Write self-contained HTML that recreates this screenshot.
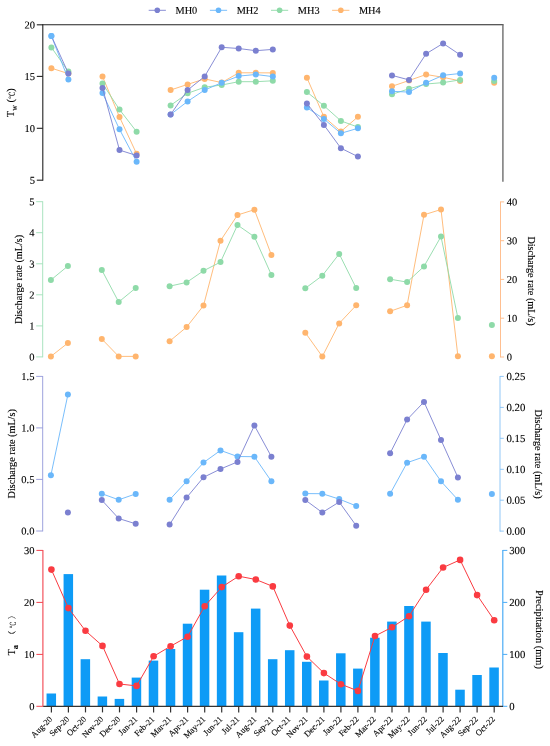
<!DOCTYPE html>
<html><head><meta charset="utf-8"><title>chart</title>
<style>html,body{margin:0;padding:0;background:#fff}body{width:550px;height:746px;overflow:hidden}svg text{stroke:#000;stroke-width:0.12px}</style></head>
<body>
<svg width="550" height="746" viewBox="0 0 550 746" style="display:block;font-family:'Liberation Serif', 'Noto Serif CJK SC', serif" stroke-linejoin="round">
<rect width="550" height="746" fill="#fff"/>
<line x1="148.7" y1="10.3" x2="165.9" y2="10.3" stroke="#7b80d0" stroke-width="0.9"/>
<circle cx="157.3" cy="10.3" r="2.8" fill="#7b80d0"/>
<text transform="translate(175.5,13.8) rotate(0.05)" font-size="10.3" fill="#000">MH0</text>
<line x1="209.9" y1="10.3" x2="227.1" y2="10.3" stroke="#6ab7fa" stroke-width="0.9"/>
<circle cx="218.5" cy="10.3" r="2.8" fill="#6ab7fa"/>
<text transform="translate(236.7,13.8) rotate(0.05)" font-size="10.3" fill="#000">MH2</text>
<line x1="271.0" y1="10.3" x2="288.2" y2="10.3" stroke="#8edaa8" stroke-width="0.9"/>
<circle cx="279.6" cy="10.3" r="2.8" fill="#8edaa8"/>
<text transform="translate(297.8,13.8) rotate(0.05)" font-size="10.3" fill="#000">MH3</text>
<line x1="332.1" y1="10.3" x2="349.4" y2="10.3" stroke="#ffb56e" stroke-width="0.9"/>
<circle cx="340.8" cy="10.3" r="2.8" fill="#ffb56e"/>
<text transform="translate(358.9,13.8) rotate(0.05)" font-size="10.3" fill="#000">MH4</text>
<line x1="42.8" y1="24.3" x2="42.8" y2="180.7" stroke="#222" stroke-width="1.1"/>
<line x1="42.3" y1="24.8" x2="503.6" y2="24.8" stroke="#222" stroke-width="1.1"/>
<line x1="502.9" y1="24.8" x2="502.9" y2="181.8" stroke="#777" stroke-width="1.5"/>
<line x1="36.8" y1="24.8" x2="42.8" y2="24.8" stroke="#222" stroke-width="1.1"/>
<text transform="translate(35.0,28.4) rotate(0.05)" text-anchor="end" font-size="10.5" fill="#000">20</text>
<line x1="36.8" y1="76.4" x2="42.8" y2="76.4" stroke="#222" stroke-width="1.1"/>
<text transform="translate(35.0,80.0) rotate(0.05)" text-anchor="end" font-size="10.5" fill="#000">15</text>
<line x1="36.8" y1="128.3" x2="42.8" y2="128.3" stroke="#222" stroke-width="1.1"/>
<text transform="translate(35.0,131.9) rotate(0.05)" text-anchor="end" font-size="10.5" fill="#000">10</text>
<line x1="36.8" y1="180.2" x2="42.8" y2="180.2" stroke="#222" stroke-width="1.1"/>
<text transform="translate(35.0,183.8) rotate(0.05)" text-anchor="end" font-size="10.5" fill="#000">5</text>
<text transform="translate(14,117.2) rotate(-90)" font-size="10.5" fill="#000">T<tspan font-size="7.8" dy="2.8">w</tspan><tspan dy="-2.8" dx="0"> (</tspan><tspan font-size="7.2">℃</tspan>)</text>
<polyline fill="none" stroke="#ffb56e" stroke-width="0.9" points="51.4,68.2 68.4,73.6"/><polyline fill="none" stroke="#ffb56e" stroke-width="0.9" points="102.5,76.5 119.5,117.0 136.6,153.8"/><polyline fill="none" stroke="#ffb56e" stroke-width="0.9" points="170.6,90.0 187.6,84.4 204.7,78.9 221.7,82.6 238.7,72.8 255.8,72.8 272.8,72.9"/><polyline fill="none" stroke="#ffb56e" stroke-width="0.9" points="306.9,77.7 323.9,116.8 340.9,131.5 357.9,116.8"/><polyline fill="none" stroke="#ffb56e" stroke-width="0.9" points="392.0,86.3 409.0,80.5 426.1,74.5 443.1,77.3 460.1,80.9"/><circle cx="51.4" cy="68.2" r="3.0" fill="#ffb56e"/><circle cx="68.4" cy="73.6" r="3.0" fill="#ffb56e"/><circle cx="102.5" cy="76.5" r="3.0" fill="#ffb56e"/><circle cx="119.5" cy="117.0" r="3.0" fill="#ffb56e"/><circle cx="136.6" cy="153.8" r="3.0" fill="#ffb56e"/><circle cx="170.6" cy="90.0" r="3.0" fill="#ffb56e"/><circle cx="187.6" cy="84.4" r="3.0" fill="#ffb56e"/><circle cx="204.7" cy="78.9" r="3.0" fill="#ffb56e"/><circle cx="221.7" cy="82.6" r="3.0" fill="#ffb56e"/><circle cx="238.7" cy="72.8" r="3.0" fill="#ffb56e"/><circle cx="255.8" cy="72.8" r="3.0" fill="#ffb56e"/><circle cx="272.8" cy="72.9" r="3.0" fill="#ffb56e"/><circle cx="306.9" cy="77.7" r="3.0" fill="#ffb56e"/><circle cx="323.9" cy="116.8" r="3.0" fill="#ffb56e"/><circle cx="340.9" cy="131.5" r="3.0" fill="#ffb56e"/><circle cx="357.9" cy="116.8" r="3.0" fill="#ffb56e"/><circle cx="392.0" cy="86.3" r="3.0" fill="#ffb56e"/><circle cx="409.0" cy="80.5" r="3.0" fill="#ffb56e"/><circle cx="426.1" cy="74.5" r="3.0" fill="#ffb56e"/><circle cx="443.1" cy="77.3" r="3.0" fill="#ffb56e"/><circle cx="460.1" cy="80.9" r="3.0" fill="#ffb56e"/><circle cx="494.2" cy="82.8" r="3.0" fill="#ffb56e"/>
<polyline fill="none" stroke="#8edaa8" stroke-width="0.9" points="51.4,47.4 68.4,71.6"/><polyline fill="none" stroke="#8edaa8" stroke-width="0.9" points="102.5,83.5 119.5,109.6 136.6,131.7"/><polyline fill="none" stroke="#8edaa8" stroke-width="0.9" points="170.6,105.4 187.6,93.3 204.7,87.2 221.7,85.0 238.7,81.7 255.8,81.7 272.8,80.8"/><polyline fill="none" stroke="#8edaa8" stroke-width="0.9" points="306.9,92.0 323.9,105.7 340.9,120.9 357.9,127.1"/><polyline fill="none" stroke="#8edaa8" stroke-width="0.9" points="392.0,94.3 409.0,88.8 426.1,84.0 443.1,82.6 460.1,79.9"/><circle cx="51.4" cy="47.4" r="3.0" fill="#8edaa8"/><circle cx="68.4" cy="71.6" r="3.0" fill="#8edaa8"/><circle cx="102.5" cy="83.5" r="3.0" fill="#8edaa8"/><circle cx="119.5" cy="109.6" r="3.0" fill="#8edaa8"/><circle cx="136.6" cy="131.7" r="3.0" fill="#8edaa8"/><circle cx="170.6" cy="105.4" r="3.0" fill="#8edaa8"/><circle cx="187.6" cy="93.3" r="3.0" fill="#8edaa8"/><circle cx="204.7" cy="87.2" r="3.0" fill="#8edaa8"/><circle cx="221.7" cy="85.0" r="3.0" fill="#8edaa8"/><circle cx="238.7" cy="81.7" r="3.0" fill="#8edaa8"/><circle cx="255.8" cy="81.7" r="3.0" fill="#8edaa8"/><circle cx="272.8" cy="80.8" r="3.0" fill="#8edaa8"/><circle cx="306.9" cy="92.0" r="3.0" fill="#8edaa8"/><circle cx="323.9" cy="105.7" r="3.0" fill="#8edaa8"/><circle cx="340.9" cy="120.9" r="3.0" fill="#8edaa8"/><circle cx="357.9" cy="127.1" r="3.0" fill="#8edaa8"/><circle cx="392.0" cy="94.3" r="3.0" fill="#8edaa8"/><circle cx="409.0" cy="88.8" r="3.0" fill="#8edaa8"/><circle cx="426.1" cy="84.0" r="3.0" fill="#8edaa8"/><circle cx="443.1" cy="82.6" r="3.0" fill="#8edaa8"/><circle cx="460.1" cy="79.9" r="3.0" fill="#8edaa8"/><circle cx="494.2" cy="80.9" r="3.0" fill="#8edaa8"/>
<polyline fill="none" stroke="#6ab7fa" stroke-width="0.9" points="51.4,36.0 68.4,79.6"/><polyline fill="none" stroke="#6ab7fa" stroke-width="0.9" points="102.5,93.1 119.5,129.3 136.6,161.7"/><polyline fill="none" stroke="#6ab7fa" stroke-width="0.9" points="170.6,114.5 187.6,101.4 204.7,90.0 221.7,82.7 238.7,76.1 255.8,74.5 272.8,76.6"/><polyline fill="none" stroke="#6ab7fa" stroke-width="0.9" points="306.9,107.6 323.9,119.0 340.9,133.3 357.9,128.3"/><polyline fill="none" stroke="#6ab7fa" stroke-width="0.9" points="392.0,91.3 409.0,92.1 426.1,82.8 443.1,75.3 460.1,73.5"/><circle cx="51.4" cy="36.0" r="3.0" fill="#6ab7fa"/><circle cx="68.4" cy="79.6" r="3.0" fill="#6ab7fa"/><circle cx="102.5" cy="93.1" r="3.0" fill="#6ab7fa"/><circle cx="119.5" cy="129.3" r="3.0" fill="#6ab7fa"/><circle cx="136.6" cy="161.7" r="3.0" fill="#6ab7fa"/><circle cx="170.6" cy="114.5" r="3.0" fill="#6ab7fa"/><circle cx="187.6" cy="101.4" r="3.0" fill="#6ab7fa"/><circle cx="204.7" cy="90.0" r="3.0" fill="#6ab7fa"/><circle cx="221.7" cy="82.7" r="3.0" fill="#6ab7fa"/><circle cx="238.7" cy="76.1" r="3.0" fill="#6ab7fa"/><circle cx="255.8" cy="74.5" r="3.0" fill="#6ab7fa"/><circle cx="272.8" cy="76.6" r="3.0" fill="#6ab7fa"/><circle cx="306.9" cy="107.6" r="3.0" fill="#6ab7fa"/><circle cx="323.9" cy="119.0" r="3.0" fill="#6ab7fa"/><circle cx="340.9" cy="133.3" r="3.0" fill="#6ab7fa"/><circle cx="357.9" cy="128.3" r="3.0" fill="#6ab7fa"/><circle cx="392.0" cy="91.3" r="3.0" fill="#6ab7fa"/><circle cx="409.0" cy="92.1" r="3.0" fill="#6ab7fa"/><circle cx="426.1" cy="82.8" r="3.0" fill="#6ab7fa"/><circle cx="443.1" cy="75.3" r="3.0" fill="#6ab7fa"/><circle cx="460.1" cy="73.5" r="3.0" fill="#6ab7fa"/><circle cx="494.2" cy="77.7" r="3.0" fill="#6ab7fa"/>
<line x1="51.4" y1="36" x2="68.4" y2="73.4" stroke="#7b80d0" stroke-width="0.9"/>
<circle cx="51.4" cy="36" r="3" fill="#6ab7fa"/>
<polyline fill="none" stroke="#7b80d0" stroke-width="0.9" points="102.5,87.9 119.5,150.1 136.6,155.5"/><polyline fill="none" stroke="#7b80d0" stroke-width="0.9" points="170.6,114.5 187.6,90.1 204.7,76.4 221.7,47.3 238.7,48.5 255.8,50.7 272.8,49.4"/><polyline fill="none" stroke="#7b80d0" stroke-width="0.9" points="306.9,103.5 323.9,124.9 340.9,148.2 357.9,156.6"/><polyline fill="none" stroke="#7b80d0" stroke-width="0.9" points="392.0,75.4 409.0,79.9 426.1,53.8 443.1,43.4 460.1,54.8"/><circle cx="68.4" cy="73.4" r="3.0" fill="#7b80d0"/><circle cx="102.5" cy="87.9" r="3.0" fill="#7b80d0"/><circle cx="119.5" cy="150.1" r="3.0" fill="#7b80d0"/><circle cx="136.6" cy="155.5" r="3.0" fill="#7b80d0"/><circle cx="170.6" cy="114.5" r="3.0" fill="#7b80d0"/><circle cx="187.6" cy="90.1" r="3.0" fill="#7b80d0"/><circle cx="204.7" cy="76.4" r="3.0" fill="#7b80d0"/><circle cx="221.7" cy="47.3" r="3.0" fill="#7b80d0"/><circle cx="238.7" cy="48.5" r="3.0" fill="#7b80d0"/><circle cx="255.8" cy="50.7" r="3.0" fill="#7b80d0"/><circle cx="272.8" cy="49.4" r="3.0" fill="#7b80d0"/><circle cx="306.9" cy="103.5" r="3.0" fill="#7b80d0"/><circle cx="323.9" cy="124.9" r="3.0" fill="#7b80d0"/><circle cx="340.9" cy="148.2" r="3.0" fill="#7b80d0"/><circle cx="357.9" cy="156.6" r="3.0" fill="#7b80d0"/><circle cx="392.0" cy="75.4" r="3.0" fill="#7b80d0"/><circle cx="409.0" cy="79.9" r="3.0" fill="#7b80d0"/><circle cx="426.1" cy="53.8" r="3.0" fill="#7b80d0"/><circle cx="443.1" cy="43.4" r="3.0" fill="#7b80d0"/><circle cx="460.1" cy="54.8" r="3.0" fill="#7b80d0"/>
<line x1="42.7" y1="201.3" x2="42.7" y2="357.3" stroke="#9fe0b8" stroke-width="0.9"/>
<line x1="36.2" y1="201.7" x2="42.7" y2="201.7" stroke="#9fe0b8" stroke-width="0.9"/>
<text transform="translate(34.4,205.3) rotate(0.05)" text-anchor="end" font-size="10.5" fill="#000">5</text>
<line x1="36.2" y1="232.7" x2="42.7" y2="232.7" stroke="#9fe0b8" stroke-width="0.9"/>
<text transform="translate(34.4,236.3) rotate(0.05)" text-anchor="end" font-size="10.5" fill="#000">4</text>
<line x1="36.2" y1="263.8" x2="42.7" y2="263.8" stroke="#9fe0b8" stroke-width="0.9"/>
<text transform="translate(34.4,267.4) rotate(0.05)" text-anchor="end" font-size="10.5" fill="#000">3</text>
<line x1="36.2" y1="294.8" x2="42.7" y2="294.8" stroke="#9fe0b8" stroke-width="0.9"/>
<text transform="translate(34.4,298.4) rotate(0.05)" text-anchor="end" font-size="10.5" fill="#000">2</text>
<line x1="36.2" y1="325.9" x2="42.7" y2="325.9" stroke="#9fe0b8" stroke-width="0.9"/>
<text transform="translate(34.4,329.5) rotate(0.05)" text-anchor="end" font-size="10.5" fill="#000">1</text>
<line x1="36.2" y1="356.9" x2="42.7" y2="356.9" stroke="#9fe0b8" stroke-width="0.9"/>
<text transform="translate(34.4,360.5) rotate(0.05)" text-anchor="end" font-size="10.5" fill="#000">0</text>
<line x1="500.5" y1="201.5" x2="500.5" y2="357.4" stroke="#ffb883" stroke-width="0.9"/>
<line x1="500.5" y1="201.9" x2="504.1" y2="201.9" stroke="#ffb883" stroke-width="0.9"/>
<text transform="translate(506.7,205.5) rotate(0.05)" text-anchor="start" font-size="10.5" fill="#000">40</text>
<line x1="500.5" y1="240.7" x2="504.1" y2="240.7" stroke="#ffb883" stroke-width="0.9"/>
<text transform="translate(506.7,244.3) rotate(0.05)" text-anchor="start" font-size="10.5" fill="#000">30</text>
<line x1="500.5" y1="279.4" x2="504.1" y2="279.4" stroke="#ffb883" stroke-width="0.9"/>
<text transform="translate(506.7,283.0) rotate(0.05)" text-anchor="start" font-size="10.5" fill="#000">20</text>
<line x1="500.5" y1="318.2" x2="504.1" y2="318.2" stroke="#ffb883" stroke-width="0.9"/>
<text transform="translate(506.7,321.8) rotate(0.05)" text-anchor="start" font-size="10.5" fill="#000">10</text>
<line x1="500.5" y1="357.0" x2="504.1" y2="357.0" stroke="#ffb883" stroke-width="0.9"/>
<text transform="translate(506.7,360.6) rotate(0.05)" text-anchor="start" font-size="10.5" fill="#000">0</text>
<text transform="translate(21.6,279.5) rotate(-90)" text-anchor="middle" font-size="10.2" fill="#000">Discharge rate (mL/s)</text>
<text transform="translate(528.3,281.0) rotate(90)" text-anchor="middle" font-size="10.2" fill="#000">Discharge rate (mL/s)</text>
<polyline fill="none" stroke="#ffb56e" stroke-width="0.9" points="50.9,356.4 67.9,343.0"/><polyline fill="none" stroke="#ffb56e" stroke-width="0.9" points="101.8,339.0 118.7,356.4 135.7,356.4"/><polyline fill="none" stroke="#ffb56e" stroke-width="0.9" points="169.6,341.2 186.6,327.1 203.5,305.6 220.5,240.7 237.5,215.0 254.4,209.7 271.4,255.0"/><polyline fill="none" stroke="#ffb56e" stroke-width="0.9" points="305.3,332.7 322.3,356.5 339.2,323.4 356.2,305.3"/><polyline fill="none" stroke="#ffb56e" stroke-width="0.9" points="390.1,311.3 407.1,305.3 424.0,214.8 441.0,209.5 457.9,356.2"/><circle cx="50.9" cy="356.4" r="3.0" fill="#ffb56e"/><circle cx="67.9" cy="343.0" r="3.0" fill="#ffb56e"/><circle cx="101.8" cy="339.0" r="3.0" fill="#ffb56e"/><circle cx="118.7" cy="356.4" r="3.0" fill="#ffb56e"/><circle cx="135.7" cy="356.4" r="3.0" fill="#ffb56e"/><circle cx="169.6" cy="341.2" r="3.0" fill="#ffb56e"/><circle cx="186.6" cy="327.1" r="3.0" fill="#ffb56e"/><circle cx="203.5" cy="305.6" r="3.0" fill="#ffb56e"/><circle cx="220.5" cy="240.7" r="3.0" fill="#ffb56e"/><circle cx="237.5" cy="215.0" r="3.0" fill="#ffb56e"/><circle cx="254.4" cy="209.7" r="3.0" fill="#ffb56e"/><circle cx="271.4" cy="255.0" r="3.0" fill="#ffb56e"/><circle cx="305.3" cy="332.7" r="3.0" fill="#ffb56e"/><circle cx="322.3" cy="356.5" r="3.0" fill="#ffb56e"/><circle cx="339.2" cy="323.4" r="3.0" fill="#ffb56e"/><circle cx="356.2" cy="305.3" r="3.0" fill="#ffb56e"/><circle cx="390.1" cy="311.3" r="3.0" fill="#ffb56e"/><circle cx="407.1" cy="305.3" r="3.0" fill="#ffb56e"/><circle cx="424.0" cy="214.8" r="3.0" fill="#ffb56e"/><circle cx="441.0" cy="209.5" r="3.0" fill="#ffb56e"/><circle cx="457.9" cy="356.2" r="3.0" fill="#ffb56e"/><circle cx="491.9" cy="356.3" r="3.0" fill="#ffb56e"/>
<polyline fill="none" stroke="#8edaa8" stroke-width="0.9" points="50.9,280.0 67.9,266.0"/><polyline fill="none" stroke="#8edaa8" stroke-width="0.9" points="101.8,270.0 118.7,302.0 135.7,288.0"/><polyline fill="none" stroke="#8edaa8" stroke-width="0.9" points="169.6,286.2 186.6,282.4 203.5,270.8 220.5,262.1 237.5,225.0 254.4,236.8 271.4,274.9"/><polyline fill="none" stroke="#8edaa8" stroke-width="0.9" points="305.3,288.3 322.3,275.7 339.2,253.9 356.2,288.1"/><polyline fill="none" stroke="#8edaa8" stroke-width="0.9" points="390.1,279.2 407.1,282.1 424.0,266.4 441.0,236.5 457.9,318.1"/><circle cx="50.9" cy="280.0" r="3.0" fill="#8edaa8"/><circle cx="67.9" cy="266.0" r="3.0" fill="#8edaa8"/><circle cx="101.8" cy="270.0" r="3.0" fill="#8edaa8"/><circle cx="118.7" cy="302.0" r="3.0" fill="#8edaa8"/><circle cx="135.7" cy="288.0" r="3.0" fill="#8edaa8"/><circle cx="169.6" cy="286.2" r="3.0" fill="#8edaa8"/><circle cx="186.6" cy="282.4" r="3.0" fill="#8edaa8"/><circle cx="203.5" cy="270.8" r="3.0" fill="#8edaa8"/><circle cx="220.5" cy="262.1" r="3.0" fill="#8edaa8"/><circle cx="237.5" cy="225.0" r="3.0" fill="#8edaa8"/><circle cx="254.4" cy="236.8" r="3.0" fill="#8edaa8"/><circle cx="271.4" cy="274.9" r="3.0" fill="#8edaa8"/><circle cx="305.3" cy="288.3" r="3.0" fill="#8edaa8"/><circle cx="322.3" cy="275.7" r="3.0" fill="#8edaa8"/><circle cx="339.2" cy="253.9" r="3.0" fill="#8edaa8"/><circle cx="356.2" cy="288.1" r="3.0" fill="#8edaa8"/><circle cx="390.1" cy="279.2" r="3.0" fill="#8edaa8"/><circle cx="407.1" cy="282.1" r="3.0" fill="#8edaa8"/><circle cx="424.0" cy="266.4" r="3.0" fill="#8edaa8"/><circle cx="441.0" cy="236.5" r="3.0" fill="#8edaa8"/><circle cx="457.9" cy="318.1" r="3.0" fill="#8edaa8"/><circle cx="491.9" cy="325.0" r="3.0" fill="#8edaa8"/>
<line x1="42.7" y1="376" x2="42.7" y2="531.4" stroke="#9297d9" stroke-width="0.9"/>
<line x1="36.2" y1="376.4" x2="42.7" y2="376.4" stroke="#9297d9" stroke-width="0.9"/>
<text transform="translate(34.4,380.0) rotate(0.05)" text-anchor="end" font-size="10.5" fill="#000">1.5</text>
<line x1="36.2" y1="427.9" x2="42.7" y2="427.9" stroke="#9297d9" stroke-width="0.9"/>
<text transform="translate(34.4,431.5) rotate(0.05)" text-anchor="end" font-size="10.5" fill="#000">1.0</text>
<line x1="36.2" y1="479.4" x2="42.7" y2="479.4" stroke="#9297d9" stroke-width="0.9"/>
<text transform="translate(34.4,483.0) rotate(0.05)" text-anchor="end" font-size="10.5" fill="#000">0.5</text>
<line x1="36.2" y1="531.0" x2="42.7" y2="531.0" stroke="#9297d9" stroke-width="0.9"/>
<text transform="translate(34.4,534.6) rotate(0.05)" text-anchor="end" font-size="10.5" fill="#000">0.0</text>
<line x1="500.0" y1="376.0" x2="500.0" y2="531.6" stroke="#86c2f6" stroke-width="0.9"/>
<line x1="500.0" y1="376.4" x2="503.8" y2="376.4" stroke="#86c2f6" stroke-width="0.9"/>
<text transform="translate(506.4,380.0) rotate(0.05)" text-anchor="start" font-size="10.8" fill="#000">0.25</text>
<line x1="500.0" y1="407.4" x2="503.8" y2="407.4" stroke="#86c2f6" stroke-width="0.9"/>
<text transform="translate(506.4,411.0) rotate(0.05)" text-anchor="start" font-size="10.8" fill="#000">0.20</text>
<line x1="500.0" y1="438.3" x2="503.8" y2="438.3" stroke="#86c2f6" stroke-width="0.9"/>
<text transform="translate(506.4,441.9) rotate(0.05)" text-anchor="start" font-size="10.8" fill="#000">0.15</text>
<line x1="500.0" y1="469.3" x2="503.8" y2="469.3" stroke="#86c2f6" stroke-width="0.9"/>
<text transform="translate(506.4,472.9) rotate(0.05)" text-anchor="start" font-size="10.8" fill="#000">0.10</text>
<line x1="500.0" y1="500.2" x2="503.8" y2="500.2" stroke="#86c2f6" stroke-width="0.9"/>
<text transform="translate(506.4,503.8) rotate(0.05)" text-anchor="start" font-size="10.8" fill="#000">0.05</text>
<line x1="500.0" y1="531.1" x2="503.8" y2="531.1" stroke="#86c2f6" stroke-width="0.9"/>
<text transform="translate(506.4,534.7) rotate(0.05)" text-anchor="start" font-size="10.8" fill="#000">0.00</text>
<text transform="translate(15.2,453.8) rotate(-90)" text-anchor="middle" font-size="10.2" fill="#000">Discharge rate (mL/s)</text>
<text transform="translate(535.4,454.0) rotate(90)" text-anchor="middle" font-size="10.2" fill="#000">Discharge rate (mL/s)</text>
<polyline fill="none" stroke="#6ab7fa" stroke-width="0.9" points="50.9,475.2 67.9,394.6"/><polyline fill="none" stroke="#6ab7fa" stroke-width="0.9" points="101.8,493.7 118.7,499.8 135.7,493.9"/><polyline fill="none" stroke="#6ab7fa" stroke-width="0.9" points="169.6,499.8 186.6,481.3 203.5,462.6 220.5,450.4 237.5,456.5 254.4,456.7 271.4,481.3"/><polyline fill="none" stroke="#6ab7fa" stroke-width="0.9" points="305.3,493.6 322.3,493.7 339.2,499.1 356.2,505.9"/><polyline fill="none" stroke="#6ab7fa" stroke-width="0.9" points="390.1,493.8 407.1,462.7 424.0,456.8 441.0,481.3 457.9,499.8"/><circle cx="50.9" cy="475.2" r="3.0" fill="#6ab7fa"/><circle cx="67.9" cy="394.6" r="3.0" fill="#6ab7fa"/><circle cx="101.8" cy="493.7" r="3.0" fill="#6ab7fa"/><circle cx="118.7" cy="499.8" r="3.0" fill="#6ab7fa"/><circle cx="135.7" cy="493.9" r="3.0" fill="#6ab7fa"/><circle cx="169.6" cy="499.8" r="3.0" fill="#6ab7fa"/><circle cx="186.6" cy="481.3" r="3.0" fill="#6ab7fa"/><circle cx="203.5" cy="462.6" r="3.0" fill="#6ab7fa"/><circle cx="220.5" cy="450.4" r="3.0" fill="#6ab7fa"/><circle cx="237.5" cy="456.5" r="3.0" fill="#6ab7fa"/><circle cx="254.4" cy="456.7" r="3.0" fill="#6ab7fa"/><circle cx="271.4" cy="481.3" r="3.0" fill="#6ab7fa"/><circle cx="305.3" cy="493.6" r="3.0" fill="#6ab7fa"/><circle cx="322.3" cy="493.7" r="3.0" fill="#6ab7fa"/><circle cx="339.2" cy="499.1" r="3.0" fill="#6ab7fa"/><circle cx="356.2" cy="505.9" r="3.0" fill="#6ab7fa"/><circle cx="390.1" cy="493.8" r="3.0" fill="#6ab7fa"/><circle cx="407.1" cy="462.7" r="3.0" fill="#6ab7fa"/><circle cx="424.0" cy="456.8" r="3.0" fill="#6ab7fa"/><circle cx="441.0" cy="481.3" r="3.0" fill="#6ab7fa"/><circle cx="457.9" cy="499.8" r="3.0" fill="#6ab7fa"/><circle cx="491.9" cy="493.9" r="3.0" fill="#6ab7fa"/>
<polyline fill="none" stroke="#7b80d0" stroke-width="0.9" points="101.8,500.1 118.7,518.5 135.7,523.8"/><polyline fill="none" stroke="#7b80d0" stroke-width="0.9" points="169.6,524.6 186.6,497.6 203.5,477.3 220.5,469.0 237.5,461.9 254.4,425.5 271.4,456.7"/><polyline fill="none" stroke="#7b80d0" stroke-width="0.9" points="305.3,500.0 322.3,512.5 339.2,502.0 356.2,525.7"/><polyline fill="none" stroke="#7b80d0" stroke-width="0.9" points="390.1,453.3 407.1,419.6 424.0,401.9 441.0,439.9 457.9,477.4"/><circle cx="67.9" cy="512.4" r="3.0" fill="#7b80d0"/><circle cx="101.8" cy="500.1" r="3.0" fill="#7b80d0"/><circle cx="118.7" cy="518.5" r="3.0" fill="#7b80d0"/><circle cx="135.7" cy="523.8" r="3.0" fill="#7b80d0"/><circle cx="169.6" cy="524.6" r="3.0" fill="#7b80d0"/><circle cx="186.6" cy="497.6" r="3.0" fill="#7b80d0"/><circle cx="203.5" cy="477.3" r="3.0" fill="#7b80d0"/><circle cx="220.5" cy="469.0" r="3.0" fill="#7b80d0"/><circle cx="237.5" cy="461.9" r="3.0" fill="#7b80d0"/><circle cx="254.4" cy="425.5" r="3.0" fill="#7b80d0"/><circle cx="271.4" cy="456.7" r="3.0" fill="#7b80d0"/><circle cx="305.3" cy="500.0" r="3.0" fill="#7b80d0"/><circle cx="322.3" cy="512.5" r="3.0" fill="#7b80d0"/><circle cx="339.2" cy="502.0" r="3.0" fill="#7b80d0"/><circle cx="356.2" cy="525.7" r="3.0" fill="#7b80d0"/><circle cx="390.1" cy="453.3" r="3.0" fill="#7b80d0"/><circle cx="407.1" cy="419.6" r="3.0" fill="#7b80d0"/><circle cx="424.0" cy="401.9" r="3.0" fill="#7b80d0"/><circle cx="441.0" cy="439.9" r="3.0" fill="#7b80d0"/><circle cx="457.9" cy="477.4" r="3.0" fill="#7b80d0"/>
<rect x="46.55" y="693.5" width="9.5" height="12.8" fill="#0e9bf6"/>
<rect x="63.58" y="574.1" width="9.5" height="132.2" fill="#0e9bf6"/>
<rect x="80.61" y="659.2" width="9.5" height="47.1" fill="#0e9bf6"/>
<rect x="97.64" y="696.5" width="9.5" height="9.8" fill="#0e9bf6"/>
<rect x="114.67" y="698.9" width="9.5" height="7.4" fill="#0e9bf6"/>
<rect x="131.70" y="677.6" width="9.5" height="28.7" fill="#0e9bf6"/>
<rect x="148.73" y="660.6" width="9.5" height="45.7" fill="#0e9bf6"/>
<rect x="165.76" y="649.0" width="9.5" height="57.3" fill="#0e9bf6"/>
<rect x="182.79" y="623.7" width="9.5" height="82.6" fill="#0e9bf6"/>
<rect x="199.82" y="589.7" width="9.5" height="116.6" fill="#0e9bf6"/>
<rect x="216.85" y="575.5" width="9.5" height="130.8" fill="#0e9bf6"/>
<rect x="233.88" y="632.2" width="9.5" height="74.1" fill="#0e9bf6"/>
<rect x="250.91" y="608.6" width="9.5" height="97.7" fill="#0e9bf6"/>
<rect x="267.94" y="659.2" width="9.5" height="47.1" fill="#0e9bf6"/>
<rect x="284.97" y="650.2" width="9.5" height="56.1" fill="#0e9bf6"/>
<rect x="302.00" y="661.8" width="9.5" height="44.5" fill="#0e9bf6"/>
<rect x="319.03" y="680.5" width="9.5" height="25.8" fill="#0e9bf6"/>
<rect x="336.06" y="653.3" width="9.5" height="53.0" fill="#0e9bf6"/>
<rect x="353.09" y="668.6" width="9.5" height="37.7" fill="#0e9bf6"/>
<rect x="370.12" y="637.7" width="9.5" height="68.6" fill="#0e9bf6"/>
<rect x="387.15" y="621.6" width="9.5" height="84.7" fill="#0e9bf6"/>
<rect x="404.18" y="606.0" width="9.5" height="100.3" fill="#0e9bf6"/>
<rect x="421.21" y="621.6" width="9.5" height="84.7" fill="#0e9bf6"/>
<rect x="438.24" y="653.0" width="9.5" height="53.3" fill="#0e9bf6"/>
<rect x="455.27" y="689.7" width="9.5" height="16.6" fill="#0e9bf6"/>
<rect x="472.30" y="675.0" width="9.5" height="31.3" fill="#0e9bf6"/>
<rect x="489.33" y="667.5" width="9.5" height="38.8" fill="#0e9bf6"/>
<line x1="42.9" y1="550" x2="42.9" y2="706.8" stroke="#f2444f" stroke-width="1.1"/>
<line x1="36.4" y1="550.4" x2="42.9" y2="550.4" stroke="#f2444f" stroke-width="1"/>
<text transform="translate(34.6,554.0) rotate(0.05)" text-anchor="end" font-size="10.5" fill="#000">30</text>
<line x1="36.4" y1="602.4" x2="42.9" y2="602.4" stroke="#f2444f" stroke-width="1"/>
<text transform="translate(34.6,606.0) rotate(0.05)" text-anchor="end" font-size="10.5" fill="#000">20</text>
<line x1="36.4" y1="654.4" x2="42.9" y2="654.4" stroke="#f2444f" stroke-width="1"/>
<text transform="translate(34.6,658.0) rotate(0.05)" text-anchor="end" font-size="10.5" fill="#000">10</text>
<line x1="36.4" y1="706.3" x2="42.9" y2="706.3" stroke="#f2444f" stroke-width="1"/>
<text transform="translate(34.6,709.9) rotate(0.05)" text-anchor="end" font-size="10.5" fill="#000">0</text>
<line x1="502.8" y1="550" x2="502.8" y2="706.8" stroke="#4cacf5" stroke-width="1.2"/>
<line x1="502.8" y1="550.4" x2="507.3" y2="550.4" stroke="#4cacf5" stroke-width="1"/>
<text transform="translate(509.2,554.0) rotate(0.05)" text-anchor="start" font-size="10.7" fill="#000">300</text>
<line x1="502.8" y1="602.4" x2="507.3" y2="602.4" stroke="#4cacf5" stroke-width="1"/>
<text transform="translate(509.2,606.0) rotate(0.05)" text-anchor="start" font-size="10.7" fill="#000">200</text>
<line x1="502.8" y1="654.4" x2="507.3" y2="654.4" stroke="#4cacf5" stroke-width="1"/>
<text transform="translate(509.2,658.0) rotate(0.05)" text-anchor="start" font-size="10.7" fill="#000">100</text>
<line x1="502.8" y1="706.3" x2="507.3" y2="706.3" stroke="#4cacf5" stroke-width="1"/>
<text transform="translate(509.2,709.9) rotate(0.05)" text-anchor="start" font-size="10.7" fill="#000">0</text>
<line x1="43.2" y1="706.4" x2="503.0" y2="706.4" stroke="#333" stroke-width="1.3"/>
<line x1="51.4" y1="706.3" x2="51.4" y2="712.4" stroke="#333" stroke-width="1.2"/>
<text transform="translate(52.7,719.8) rotate(-45)" text-anchor="end" font-size="8.5" fill="#000">Aug-20</text>
<line x1="68.4" y1="706.3" x2="68.4" y2="712.4" stroke="#333" stroke-width="1.2"/>
<text transform="translate(69.7,719.8) rotate(-45)" text-anchor="end" font-size="8.5" fill="#000">Sep-20</text>
<line x1="85.5" y1="706.3" x2="85.5" y2="712.4" stroke="#333" stroke-width="1.2"/>
<text transform="translate(86.8,719.8) rotate(-45)" text-anchor="end" font-size="8.5" fill="#000">Oct-20</text>
<line x1="102.5" y1="706.3" x2="102.5" y2="712.4" stroke="#333" stroke-width="1.2"/>
<text transform="translate(103.8,719.8) rotate(-45)" text-anchor="end" font-size="8.5" fill="#000">Nov-20</text>
<line x1="119.5" y1="706.3" x2="119.5" y2="712.4" stroke="#333" stroke-width="1.2"/>
<text transform="translate(120.8,719.8) rotate(-45)" text-anchor="end" font-size="8.5" fill="#000">Dec-20</text>
<line x1="136.6" y1="706.3" x2="136.6" y2="712.4" stroke="#333" stroke-width="1.2"/>
<text transform="translate(137.9,719.8) rotate(-45)" text-anchor="end" font-size="8.5" fill="#000">Jan-21</text>
<line x1="153.6" y1="706.3" x2="153.6" y2="712.4" stroke="#333" stroke-width="1.2"/>
<text transform="translate(154.9,719.8) rotate(-45)" text-anchor="end" font-size="8.5" fill="#000">Feb-21</text>
<line x1="170.6" y1="706.3" x2="170.6" y2="712.4" stroke="#333" stroke-width="1.2"/>
<text transform="translate(171.9,719.8) rotate(-45)" text-anchor="end" font-size="8.5" fill="#000">Mar-21</text>
<line x1="187.6" y1="706.3" x2="187.6" y2="712.4" stroke="#333" stroke-width="1.2"/>
<text transform="translate(188.9,719.8) rotate(-45)" text-anchor="end" font-size="8.5" fill="#000">Apr-21</text>
<line x1="204.7" y1="706.3" x2="204.7" y2="712.4" stroke="#333" stroke-width="1.2"/>
<text transform="translate(206.0,719.8) rotate(-45)" text-anchor="end" font-size="8.5" fill="#000">May-21</text>
<line x1="221.7" y1="706.3" x2="221.7" y2="712.4" stroke="#333" stroke-width="1.2"/>
<text transform="translate(223.0,719.8) rotate(-45)" text-anchor="end" font-size="8.5" fill="#000">Jun-21</text>
<line x1="238.7" y1="706.3" x2="238.7" y2="712.4" stroke="#333" stroke-width="1.2"/>
<text transform="translate(240.0,719.8) rotate(-45)" text-anchor="end" font-size="8.5" fill="#000">Jul-21</text>
<line x1="255.8" y1="706.3" x2="255.8" y2="712.4" stroke="#333" stroke-width="1.2"/>
<text transform="translate(257.1,719.8) rotate(-45)" text-anchor="end" font-size="8.5" fill="#000">Aug-21</text>
<line x1="272.8" y1="706.3" x2="272.8" y2="712.4" stroke="#333" stroke-width="1.2"/>
<text transform="translate(274.1,719.8) rotate(-45)" text-anchor="end" font-size="8.5" fill="#000">Sep-21</text>
<line x1="289.8" y1="706.3" x2="289.8" y2="712.4" stroke="#333" stroke-width="1.2"/>
<text transform="translate(291.1,719.8) rotate(-45)" text-anchor="end" font-size="8.5" fill="#000">Oct-21</text>
<line x1="306.9" y1="706.3" x2="306.9" y2="712.4" stroke="#333" stroke-width="1.2"/>
<text transform="translate(308.2,719.8) rotate(-45)" text-anchor="end" font-size="8.5" fill="#000">Nov-21</text>
<line x1="323.9" y1="706.3" x2="323.9" y2="712.4" stroke="#333" stroke-width="1.2"/>
<text transform="translate(325.2,719.8) rotate(-45)" text-anchor="end" font-size="8.5" fill="#000">Dec-21</text>
<line x1="340.9" y1="706.3" x2="340.9" y2="712.4" stroke="#333" stroke-width="1.2"/>
<text transform="translate(342.2,719.8) rotate(-45)" text-anchor="end" font-size="8.5" fill="#000">Jan-22</text>
<line x1="357.9" y1="706.3" x2="357.9" y2="712.4" stroke="#333" stroke-width="1.2"/>
<text transform="translate(359.2,719.8) rotate(-45)" text-anchor="end" font-size="8.5" fill="#000">Feb-22</text>
<line x1="375.0" y1="706.3" x2="375.0" y2="712.4" stroke="#333" stroke-width="1.2"/>
<text transform="translate(376.3,719.8) rotate(-45)" text-anchor="end" font-size="8.5" fill="#000">Mar-22</text>
<line x1="392.0" y1="706.3" x2="392.0" y2="712.4" stroke="#333" stroke-width="1.2"/>
<text transform="translate(393.3,719.8) rotate(-45)" text-anchor="end" font-size="8.5" fill="#000">Apr-22</text>
<line x1="409.0" y1="706.3" x2="409.0" y2="712.4" stroke="#333" stroke-width="1.2"/>
<text transform="translate(410.3,719.8) rotate(-45)" text-anchor="end" font-size="8.5" fill="#000">May-22</text>
<line x1="426.1" y1="706.3" x2="426.1" y2="712.4" stroke="#333" stroke-width="1.2"/>
<text transform="translate(427.4,719.8) rotate(-45)" text-anchor="end" font-size="8.5" fill="#000">Jun-22</text>
<line x1="443.1" y1="706.3" x2="443.1" y2="712.4" stroke="#333" stroke-width="1.2"/>
<text transform="translate(444.4,719.8) rotate(-45)" text-anchor="end" font-size="8.5" fill="#000">Jul-22</text>
<line x1="460.1" y1="706.3" x2="460.1" y2="712.4" stroke="#333" stroke-width="1.2"/>
<text transform="translate(461.4,719.8) rotate(-45)" text-anchor="end" font-size="8.5" fill="#000">Aug-22</text>
<line x1="477.1" y1="706.3" x2="477.1" y2="712.4" stroke="#333" stroke-width="1.2"/>
<text transform="translate(478.4,719.8) rotate(-45)" text-anchor="end" font-size="8.5" fill="#000">Sep-22</text>
<line x1="494.2" y1="706.3" x2="494.2" y2="712.4" stroke="#333" stroke-width="1.2"/>
<text transform="translate(495.5,719.8) rotate(-45)" text-anchor="end" font-size="8.5" fill="#000">Oct-22</text>
<text transform="translate(14.6,655.6) rotate(-90)" font-size="10.5" fill="#000">T<tspan font-size="8.5" dy="3.4" font-weight="bold">a</tspan></text>
<text transform="translate(15.1,625) rotate(-90)" text-anchor="middle" font-size="8" fill="#000">（<tspan font-size="6.5" dx="2.6">℃</tspan><tspan dx="2.6">）</tspan></text>
<text transform="translate(536.1,629.5) rotate(90)" text-anchor="middle" font-size="10.4" fill="#000">Precipitation (mm)</text>
<polyline fill="none" stroke="#fa3b41" stroke-width="1.0" points="51.4,569.6 68.4,608.1 85.5,630.8 102.5,645.9 119.5,684.0 136.6,685.9 153.6,656.3 170.6,646.2 187.6,636.7 204.7,606.2 221.7,587.1 238.7,576.2 255.8,579.5 272.8,586.4 289.8,625.6 306.9,656.6 323.9,673.1 340.9,684.2 357.9,690.9 375.0,636.0 392.0,627.3 409.0,616.2 426.1,589.7 443.1,567.5 460.1,559.9 477.1,595.1 494.2,620.2"/><circle cx="51.4" cy="569.6" r="3.3" fill="#fa3b41"/><circle cx="68.4" cy="608.1" r="3.3" fill="#fa3b41"/><circle cx="85.5" cy="630.8" r="3.3" fill="#fa3b41"/><circle cx="102.5" cy="645.9" r="3.3" fill="#fa3b41"/><circle cx="119.5" cy="684.0" r="3.3" fill="#fa3b41"/><circle cx="136.6" cy="685.9" r="3.3" fill="#fa3b41"/><circle cx="153.6" cy="656.3" r="3.3" fill="#fa3b41"/><circle cx="170.6" cy="646.2" r="3.3" fill="#fa3b41"/><circle cx="187.6" cy="636.7" r="3.3" fill="#fa3b41"/><circle cx="204.7" cy="606.2" r="3.3" fill="#fa3b41"/><circle cx="221.7" cy="587.1" r="3.3" fill="#fa3b41"/><circle cx="238.7" cy="576.2" r="3.3" fill="#fa3b41"/><circle cx="255.8" cy="579.5" r="3.3" fill="#fa3b41"/><circle cx="272.8" cy="586.4" r="3.3" fill="#fa3b41"/><circle cx="289.8" cy="625.6" r="3.3" fill="#fa3b41"/><circle cx="306.9" cy="656.6" r="3.3" fill="#fa3b41"/><circle cx="323.9" cy="673.1" r="3.3" fill="#fa3b41"/><circle cx="340.9" cy="684.2" r="3.3" fill="#fa3b41"/><circle cx="357.9" cy="690.9" r="3.3" fill="#fa3b41"/><circle cx="375.0" cy="636.0" r="3.3" fill="#fa3b41"/><circle cx="392.0" cy="627.3" r="3.3" fill="#fa3b41"/><circle cx="409.0" cy="616.2" r="3.3" fill="#fa3b41"/><circle cx="426.1" cy="589.7" r="3.3" fill="#fa3b41"/><circle cx="443.1" cy="567.5" r="3.3" fill="#fa3b41"/><circle cx="460.1" cy="559.9" r="3.3" fill="#fa3b41"/><circle cx="477.1" cy="595.1" r="3.3" fill="#fa3b41"/><circle cx="494.2" cy="620.2" r="3.3" fill="#fa3b41"/>
</svg>
</body></html>
